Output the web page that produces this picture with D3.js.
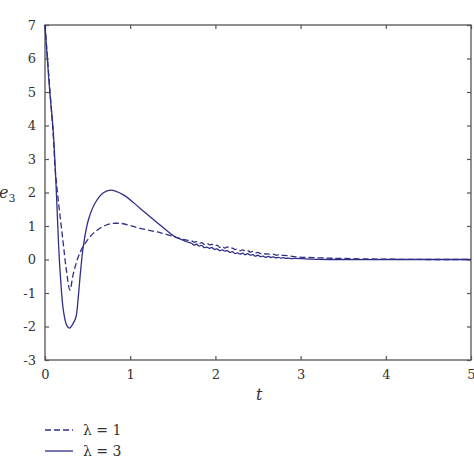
<!DOCTYPE html>
<html>
<head>
<meta charset="utf-8">
<script src="https://cdn.jsdelivr.net/npm/d3@7/dist/d3.min.js"></script>
<style>
body { margin: 0; background: #fff; }
svg { display: block; }
</style>
</head>
<body>
<svg width="474" height="474"></svg>
<script>
// lambda = 3 (solid)
var tSolid = [0, 0.05, 0.098, 0.13, 0.157, 0.176, 0.215, 0.254, 0.285, 0.333, 0.364, 0.391, 0.419, 0.45, 0.509, 0.587, 0.685, 0.77, 0.92, 1.115, 1.35, 1.53, 1.6, 1.66,
              1.72, 1.75, 1.78, 1.81, 1.84, 1.87, 1.90, 1.93, 1.96, 1.99, 2.02, 2.05, 2.08, 2.11, 2.14, 2.17, 2.20, 2.23, 2.26, 2.29, 2.32, 2.35, 2.38, 2.41,
              2.44, 2.47, 2.50, 2.53, 2.56, 2.59, 2.62, 2.65, 2.68, 2.71, 2.74, 2.77, 2.80, 2.83, 2.86, 2.89, 2.92, 3.1, 3.4, 4.0, 4.5, 5.0];
var eSolid = [7, 5.2, 3.77, 2.2, 0.58, -0.31, -1.51, -1.96, -2.05, -1.9, -1.71, -1.11, -0.31, 0.4, 1.18, 1.68, 1.99, 2.07, 1.93, 1.53, 1.03, 0.67, 0.6, 0.53,
              0.485, 0.43, 0.455, 0.40, 0.42, 0.355, 0.37, 0.335, 0.355, 0.30, 0.315, 0.265, 0.29, 0.25, 0.265, 0.21, 0.235, 0.175, 0.20, 0.16, 0.19, 0.145, 0.175, 0.13,
              0.145, 0.10, 0.13, 0.085, 0.10, 0.065, 0.095, 0.06, 0.08, 0.05, 0.065, 0.04, 0.055, 0.032, 0.043, 0.025, 0.035, 0.01, 0.0, 0.0, 0.0, 0.0];

// lambda = 1 (dashed)
var tDash = [0, 0.05, 0.1, 0.117, 0.15, 0.21, 0.25, 0.293, 0.33, 0.372, 0.41, 0.45, 0.567, 0.72, 0.88, 1.115, 1.35, 1.53, 1.62, 1.68,
             1.72, 1.75, 1.78, 1.81, 1.84, 1.87, 1.90, 1.93, 1.96, 1.99, 2.02, 2.05, 2.08, 2.11, 2.14, 2.17, 2.20, 2.23, 2.26, 2.29, 2.32, 2.35, 2.38, 2.41,
             2.44, 2.47, 2.50, 2.53, 2.56, 2.59, 2.62, 2.65, 2.68, 2.71, 2.74, 2.77, 2.80, 2.95, 3.2, 3.5, 4.0, 4.5, 5.0];
var eDash = [7, 5.3, 3.6, 2.77, 1.9, 0.58, -0.3, -0.91, -0.45, -0.06, 0.2, 0.4, 0.78, 1.03, 1.08, 0.93, 0.80, 0.67, 0.6, 0.57,
             0.56, 0.515, 0.535, 0.48, 0.505, 0.45, 0.485, 0.44, 0.45, 0.405, 0.43, 0.365, 0.395, 0.34, 0.375, 0.33, 0.34, 0.295, 0.315, 0.26, 0.29, 0.25, 0.265, 0.22,
             0.245, 0.195, 0.21, 0.175, 0.19, 0.16, 0.17, 0.145, 0.158, 0.132, 0.135, 0.12, 0.125, 0.08, 0.05, 0.03, 0.01, 0.0, 0.0];

var xTicks = [0, 1, 2, 3, 4, 5];
var yTicks = [-3, -2, -1, 0, 1, 2, 3, 4, 5, 6, 7];
var legendLabels = ["\u03bb = 1", "\u03bb = 3"];

var svg = d3.select("svg");
var mLeft = 45, mRight = 471, mTop = 25, mBottom = 360;
var lineColor = "#2e2e86";
var serif = "DejaVu Serif";

var x = d3.scaleLinear().domain([0, 5]).range([mLeft, mRight]);
var y = d3.scaleLinear().domain([-3, 7]).range([mBottom, mTop]);

// frame with inward ticks on all sides
var axisColor = "#555";
function styleAxis(g) {
    g.attr("font-family", serif).attr("font-size", 13);
    g.select(".domain").remove();
    g.selectAll(".tick line").attr("stroke", axisColor).attr("stroke-width", 1.2);
    g.selectAll(".tick text").attr("fill", "#333");
}

svg.append("g").attr("transform", "translate(0," + mBottom + ")")
    .call(d3.axisBottom(x).tickValues(xTicks).tickFormat(d3.format("d")).tickSizeInner(-4).tickPadding(10))
    .call(styleAxis);
svg.append("g").attr("transform", "translate(0," + mTop + ")")
    .call(d3.axisTop(x).tickValues(xTicks).tickSizeInner(-4).tickFormat(""))
    .call(styleAxis);
svg.append("g").attr("transform", "translate(" + mLeft + ",0)")
    .call(d3.axisLeft(y).tickValues(yTicks).tickFormat(function(d) { return d < 0 ? "-" + (-d) : d; }).tickSizeInner(-4).tickPadding(9))
    .call(styleAxis);
svg.append("g").attr("transform", "translate(" + mRight + ",0)")
    .call(d3.axisRight(y).tickValues(yTicks).tickSizeInner(-4).tickFormat(""))
    .call(styleAxis);

svg.append("rect")
    .attr("x", mLeft).attr("y", mTop)
    .attr("width", mRight - mLeft).attr("height", mBottom - mTop)
    .attr("fill", "none").attr("stroke", axisColor).attr("stroke-width", 1.3);

var line = d3.line()
    .x(function(d) { return x(d[0]); })
    .y(function(d) { return y(d[1]); })
    .curve(d3.curveCatmullRom.alpha(0.5));

svg.append("path")
    .datum(d3.zip(tDash, eDash))
    .attr("d", line)
    .attr("fill", "none")
    .attr("stroke", lineColor)
    .attr("stroke-width", 1.3)
    .attr("stroke-dasharray", "6,3");

svg.append("path")
    .datum(d3.zip(tSolid, eSolid))
    .attr("d", line)
    .attr("fill", "none")
    .attr("stroke", lineColor)
    .attr("stroke-width", 1.3);

// axis labels
var yl = svg.append("text").attr("x", -1).attr("y", 198)
    .attr("font-family", serif).attr("font-size", 16).attr("fill", "#333");
yl.append("tspan").attr("font-style", "italic").text("e");
yl.append("tspan").attr("dy", 4).attr("font-size", 11).text("3");

svg.append("text").attr("x", 256).attr("y", 400)
    .attr("font-family", serif).attr("font-size", 16).attr("fill", "#333")
    .attr("font-style", "italic").text("t");

// legend
var legend = svg.selectAll(".legend").data(legendLabels).enter().append("g")
    .attr("transform", function(d, i) { return "translate(45," + (430 + i * 21) + ")"; });
legend.append("line")
    .attr("x1", 0).attr("x2", 28).attr("y1", 0).attr("y2", 0)
    .attr("stroke", lineColor).attr("stroke-width", 1.3)
    .attr("stroke-dasharray", function(d, i) { return i == 0 ? "6,3" : null; });
legend.append("text")
    .attr("x", 38).attr("y", 5)
    .attr("font-family", serif).attr("font-size", 14).attr("fill", "#333")
    .text(function(d) { return d; });
</script>
</body>
</html>
